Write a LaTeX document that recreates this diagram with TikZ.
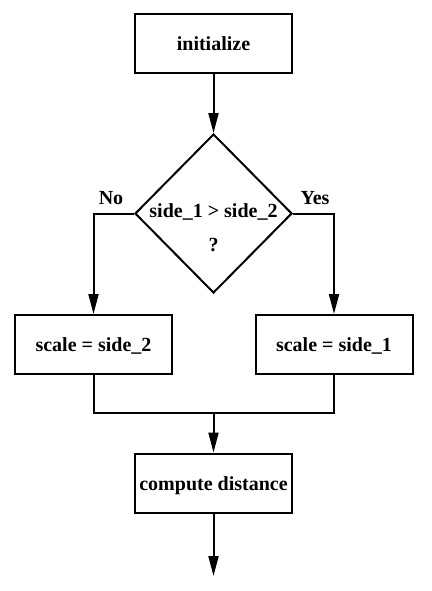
\documentclass[tikz,border=0pt]{standalone}
\usepackage{fontspec}
\setmainfont{Liberation Serif}
\usetikzlibrary{shapes.geometric,arrows.meta,positioning}
\tikzset{
  stepbox/.style={draw, line width=2pt, minimum width=157pt, minimum height=59pt, inner sep=0pt, text height=15pt, text depth=1pt},
  decision/.style={draw, diamond, line width=2pt, minimum width=157pt, minimum height=159pt, inner sep=0pt},
  flow/.style={line width=2pt, -{Triangle[length=20pt,width=10pt]}}
}
\begin{document}
\begin{tikzpicture}[x=1pt, y=-1pt, font=\fontsize{20}{29}\selectfont\bfseries, node distance=59pt]
\useasboundingbox (0,0) rectangle (431,591);
\node (init) [stepbox] at (213.5,43.5) {initialize};
\node (test) [decision, below=of init] {};
\node (testtext) [align=center, anchor=north, inner sep=0pt] at (213.5,203) {side\_1 > side\_2\\[5pt]?};
\node (right) [stepbox] at (334,344.5) {scale = side\_1};
\node (left) [stepbox] at (93.5,344.5) {scale = side\_2};
\node (dist) [stepbox] at (213.5,483) {compute distance};
\node (nolbl) at (111,198) {No};
\node (yeslbl) at (315,198) {Yes};
\coordinate (join) at (213.5,413);
\coordinate (out) at (213.5,576);
\draw[flow] (init) -- (test);
\draw[flow] (test.west) -| (left.north);
\draw[flow] (test.east) -| (right.north);
\draw[line width=2pt] (left.south) |- (join) -| (right.south);
\draw[flow] (join) -- (dist);
\draw[flow] (dist) -- (out);
\end{tikzpicture}
\end{document}
